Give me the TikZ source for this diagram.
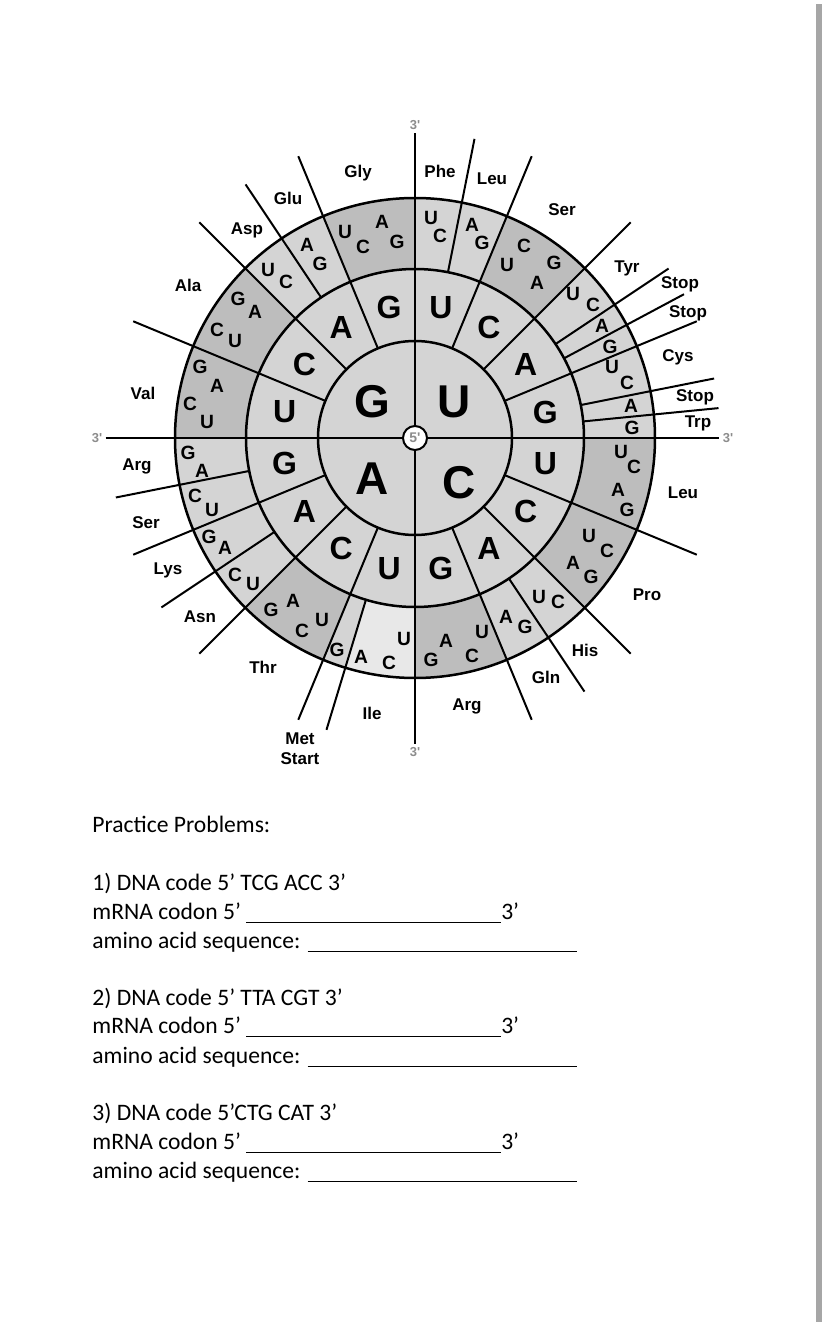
\documentclass[tikz,border=0pt]{standalone}
\usepackage{fontspec}
\setmainfont{Carlito}
\newfontfamily\radfont{Liberation Sans}
\colorlet{ringhell}{black!17}
\colorlet{ringdunkel}{black!26}
\colorlet{ringweiss}{black!9}
\tikzset{
  aa/.style={font=\radfont\bfseries\fontsize{8.5}{10}\selectfont, inner sep=0pt},
  base3/.style={font=\radfont\bfseries\fontsize{9.6}{10}\selectfont, inner sep=0pt},
  base2/.style={font=\radfont\bfseries\fontsize{16}{18}\selectfont},
  base1/.style={font=\radfont\bfseries\fontsize{23}{26}\selectfont},
  prime/.style={font=\radfont\bfseries\fontsize{6.5}{7}\selectfont, text=black!45, inner sep=1.5pt},
  kreis/.style={line width=1.25pt},
  strahl/.style={line width=1pt},
  achse/.style={line width=0.8pt},
  aufgabe/.style={font=\fontsize{11.8}{14}\selectfont, anchor=base west, inner sep=0pt},
}
\begin{document}
\begin{tikzpicture}[x=0.5pt, y=0.5pt]
\useasboundingbox (-415,-884) rectangle (413,438);

		%Grundflaeche
		\fill[ringhell] (0,0) circle[radius=240];

		%dunkle Sektoren (vierfach)
		\foreach \a [evaluate=\a as \b using \a+22.5] in {45,90,135,157.5,225,270,315,337.5}
			\fill[ringdunkel] (\a:169) arc[start angle=\a, end angle=\b, radius=169]
				-- (\b:240) arc[start angle=\b, end angle=\a, radius=240] -- cycle;
		%Ile
		\fill[ringweiss] (253.125:169) arc[start angle=253.125, end angle=270, radius=169]
			-- (270:240) arc[start angle=270, end angle=253.125, radius=240] -- cycle;

		%Kreise
		\draw[kreis] (0,0) circle[radius=97];
		\draw[kreis] (0,0) circle[radius=169];
		\draw[kreis] (0,0) circle[radius=240];

		%lange Striche
		\foreach \a in {22.5,45,67.5,112.5,135,157.5,202.5,225,247.5,292.5,315,337.5}
			\draw[strahl] (\a:97) -- (\a:305);
		%kurze Striche
		\foreach \a in {5.625,11.25,28.125,33.75,78.75,123.75,191.25,213.75,253.125,303.75}
			\draw[strahl] (\a:169) -- (\a:305);

		%Achsen
		\node[prime] (drei-o) at (0,313) {3'};
		\node[prime] (drei-u) at (0,-314) {3'};
		\node[prime] (drei-l) at (-318,0) {3'};
		\node[prime] (drei-r) at (313,0) {3'};
		\draw[achse] (drei-o) -- (drei-u);
		\draw[achse] (drei-l) -- (drei-r);
		\node[circle, draw, fill=white, line width=1pt, minimum size=12pt, inner sep=0pt,
			font=\radfont\bfseries\fontsize{7}{8}\selectfont, text=black!45] (fuenf) at (0,0) {5'};

		%erste Base
		\node[base1] (b1-g) at (-43,36) {G};
		\node[base1] (b1-u) at (39,36) {U};
		\node[base1] (b1-a) at (-43,-41) {A};
		\node[base1] (b1-c) at (44,-45) {C};

		%zweite Base
		\foreach \b/\a [count=\i] in {G/101.25,A/123.75,C/146.25,U/168.75,U/78.75,C/56.25,A/33.75,G/11.25,
			U/-11.25,C/-33.75,A/-56.25,G/-78.75,U/258.75,C/236.25,A/213.75,G/191.25}
			\node[base2] (b2-\i) at (\a:133) {\b};

		%dritte Base
		\foreach \b/\x/\y [count=\i] in {U/-70/206,C/-52/191,A/-33/216,G/-18/196,
			A/-108/193,G/-95/174,U/-147/168,C/-129/156,
			G/-177/139,A/-160/126,C/-198/108,U/-180/97,
			G/-215/71,A/-198/52,C/-225/34,U/-208/16,
			U/16/220,C/25/202,A/57/213,G/67/195,
			C/109/192,U/92/173,G/139/175,A/122/155,
			U/158/144,C/178/133,A/187/112,G/195/91,
			U/197/71,C/212/55,A/216/32,G/217/10,
			G/-227/-15,A/-213/-33,C/-220/-58,U/-203/-72,
			G/-206/-99,A/-190/-110,C/-180/-137,U/-162/-146,
			G/-144/-172,A/-122/-163,C/-113/-193,U/-93/-182,
			G/-78/-212,A/-54/-219,C/-26/-225,U/-11/-201,
			U/206/-14,C/219/-29,A/203/-52,G/212/-72,
			U/174/-98,C/192/-113,A/158/-125,G/176/-139,
			U/124/-159,C/143/-164,A/91/-179,G/110/-189,
			U/67/-194,A/31/-203,C/57/-218,G/16/-222}
			\node[base3] (b3-\i) at (\x,\y) {\b};

		%Aminosaeuren
		\node[aa] (gly) at (-57,265) {Gly};
		\node[aa] (glu) at (-127,240) {Glu};
		\node[aa] (asp) at (-168,208) {Asp};
		\node[aa] (ala) at (-227,153) {Ala};
		\node[aa] (val) at (-272,45) {Val};
		\node[aa] (phe) at (25,267) {Phe};
		\node[aa] (leu-o) at (77,259) {Leu};
		\node[aa] (ser-o) at (147,228) {Ser};
		\node[aa] (tyr) at (212,170) {Tyr};
		\node[aa] (stop-a) at (265,154) {Stop};
		\node[aa] (stop-b) at (273,125) {Stop};
		\node[aa] (cys) at (263,81) {Cys};
		\node[aa] (stop-c) at (280,41) {Stop};
		\node[aa] (trp) at (283,15) {Trp};
		\node[aa] (leu-u) at (268,-55) {Leu};
		\node[aa] (pro) at (232,-157) {Pro};
		\node[aa] (his) at (170,-212) {His};
		\node[aa] (gln) at (131,-239) {Gln};
		\node[aa] (arg-u) at (52,-268) {Arg};
		\node[aa] (ile) at (-43,-275) {Ile};
		\node[aa, align=center] (met) at (-115,-311) {Met\\Start};
		\node[aa] (thr) at (-152,-229) {Thr};
		\node[aa] (asn) at (-215,-179) {Asn};
		\node[aa] (lys) at (-247,-132) {Lys};
		\node[aa] (ser-l) at (-269,-85) {Ser};
		\node[aa] (arg-l) at (-278,-28) {Arg};

		%Aufgaben
		\node[aufgabe] (titel) at (-323,-394) {Practice Problems:};
		\node[aufgabe] (dna1) at (-323,-452) {1) DNA code 5’ TCG ACC 3’};
		\node[aufgabe] (mrna1) at (-323,-481) {mRNA codon 5’ \rule[-2pt]{127.5pt}{0.7pt}3’};
		\node[aufgabe] (amino1) at (-323,-510) {amino acid sequence: \rule[-2pt]{134.5pt}{0.7pt}};
		\node[aufgabe] (dna2) at (-323,-567) {2) DNA code 5’ TTA CGT 3’};
		\node[aufgabe] (mrna2) at (-323,-595) {mRNA codon 5’ \rule[-2pt]{127.5pt}{0.7pt}3’};
		\node[aufgabe] (amino2) at (-323,-625) {amino acid sequence: \rule[-2pt]{134.5pt}{0.7pt}};
		\node[aufgabe] (dna3) at (-323,-682) {3) DNA code 5’CTG CAT 3’};
		\node[aufgabe] (mrna3) at (-323,-711) {mRNA codon 5’ \rule[-2pt]{127.5pt}{0.7pt}3’};
		\node[aufgabe] (amino3) at (-323,-740) {amino acid sequence: \rule[-2pt]{134.5pt}{0.7pt}};

		%Rand rechts
		\fill[black!35] (401,434) rectangle (407,-884);
\end{tikzpicture}
\end{document}
